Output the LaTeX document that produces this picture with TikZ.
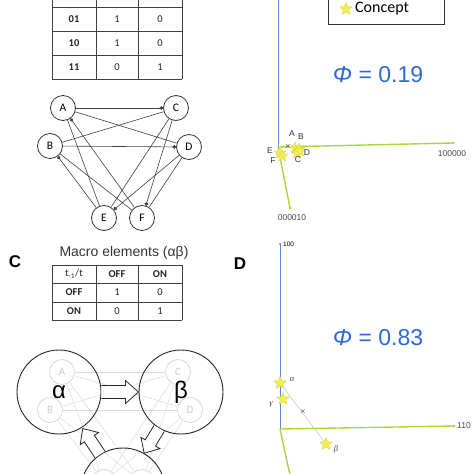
\documentclass[tikz,border=0pt]{standalone}
\usepackage{fontspec}
\setmainfont{Liberation Sans}
\newfontfamily\carl{Carlito}
\newfontfamily\serifgr{Liberation Serif}
\usetikzlibrary{shapes.geometric,arrows.meta}
\definecolor{phiblue}{RGB}{45,105,215}
\definecolor{axblue}{RGB}{95,135,225}
\definecolor{axgreen}{RGB}{170,215,60}
\definecolor{stary}{RGB}{240,240,80}
\begin{document}
\begin{tikzpicture}[x=1pt,y=-1pt,
  tbl/.style={draw=black!75,line width=1pt},
  cell/.style={font=\carl\fontsize{10.5}{10.5}\selectfont,text=black!85,inner sep=0pt},
  bcell/.style={cell,font=\carl\bfseries\fontsize{10.5}{10.5}\selectfont},
  netnode/.style={circle,draw=black!80,line width=0.8pt,minimum size=25pt,inner sep=0pt,font=\carl\fontsize{11.5}{11.5}\selectfont},
  netedge/.style={draw=black!75,line width=0.6pt},
  dotted end/.style={-{Circle[length=3.6pt]}},
  faintnode/.style={circle,draw=black!18,line width=0.6pt,minimum size=25pt,inner sep=0pt,text=black!20,font=\carl\fontsize{11}{11}\selectfont},
  faintedge/.style={draw=black!14,line width=0.5pt},
  macro/.style={circle,draw=black!85,line width=0.9pt,minimum size=84pt,inner sep=0pt,font=\fontsize{24}{24}\selectfont},
  blockarrow/.style={draw=black!85,fill=white,line width=0.8pt,line join=miter},
  concept/.style={star,star points=5,star point ratio=2.2,fill=stary,draw=yellow!50!olive!70,line width=0.3pt,minimum size=12pt,inner sep=0pt},
  blueaxis/.style={draw=axblue,line width=1pt},
  greenaxis/.style={draw=axgreen,line width=1.4pt},
  axlabel/.style={font=\fontsize{8.5}{8.5}\selectfont,text=black!70,inner sep=0pt},
  ptlabel/.style={font=\fontsize{8.5}{8.5}\selectfont,text=black!80,inner sep=0pt},
  grlabel/.style={font=\serifgr\itshape\fontsize{8.5}{8.5}\selectfont,text=black!70,inner sep=0pt},
  phitext/.style={font=\fontsize{23}{23}\selectfont,text=phiblue},
  panel/.style={font=\bfseries\fontsize{17}{17}\selectfont}
]
\useasboundingbox (0,0) rectangle (474,474);
\clip (0,0) rectangle (474,474);

% ---------- Panel A: table ----------
\foreach \x in {52,96,138,182} \draw[tbl] (\x,-10) -- (\x,79);
\foreach \y in {7,31,55,79} \draw[tbl] (52,\y) -- (182,\y);
\node[bcell] (r1) at (74,19) {01};
\node[cell] (r1a) at (117,19) {1};
\node[cell] (r1b) at (160,19) {0};
\node[bcell] (r2) at (74,43) {10};
\node[cell] (r2a) at (117,43) {1};
\node[cell] (r2b) at (160,43) {0};
\node[bcell] (r3) at (74,67) {11};
\node[cell] (r3a) at (117,67) {0};
\node[cell] (r3b) at (160,67) {1};

% ---------- Panel A: network ----------
\node[netnode] (A) at (63,108) {A};
\node[netnode] (B) at (50,146) {B};
\node[netnode] (C) at (176,108) {C};
\node[netnode] (D) at (189,147) {D};
\node[netnode] (E) at (104,218) {E};
\node[netnode] (F) at (142,218) {F};
\draw[netedge,dotted end] (A) -- (C);
\draw[netedge,dotted end] (B) -- (D);
\draw[netedge,dotted end] (D) -- (E);
\draw[netedge,dotted end] (C) -- (F);
\draw[netedge,dotted end] (F) -- (A);
\draw[netedge,dotted end] (E) -- (B);
\draw[netedge] (A) -- (D);
\draw[netedge] (B) -- (C);
\draw[netedge] (A) -- (E);
\draw[netedge] (B) -- (F);
\draw[netedge] (C) -- (E);
\draw[netedge] (D) -- (F);

% ---------- Panel B ----------
\draw[draw=black!80,line width=0.8pt] (328,-5) rectangle (444,24);
\node[concept,minimum size=13pt] (lstar) at (346,9) {};
\node[font=\carl\fontsize{16}{16}\selectfont,anchor=west,inner sep=0pt] (lconcept) at (355,9) {Concept};
\node[phitext] (phi1) at (378,75) {\textit{Φ} = 0.19};
\coordinate (o1) at (278,147);
\coordinate (ytop1) at (278,-2);
\coordinate (xend1) at (453,143);
\coordinate (zend1) at (290,208);
\draw[blueaxis] (ytop1) -- (o1);
\draw[greenaxis] (o1) -- (xend1);
\draw[greenaxis] (o1) -- (zend1);
\fill[axgreen] (xend1) circle (1.5pt);
\fill[axgreen] (zend1) circle (1.5pt);
\node[axlabel] (l100000) at (452,154) {100000};
\node[axlabel] (l000010) at (292,218) {000010};
\node[text=black!70,font=\fontsize{9}{9}\selectfont,inner sep=0pt] (x1) at (288,147) {×};
\node[concept] (sE) at (280,153) {};
\node[concept] (sF) at (282,156) {};
\node[concept] (sA) at (295,148) {};
\node[concept] (sB) at (299,149) {};
\node[concept] (sC) at (297,153) {};
\node[concept] (sD) at (300,151) {};
\node[ptlabel] (lA) at (292,134) {A};
\node[ptlabel] (lB) at (301,137) {B};
\node[ptlabel] (lE) at (270,151) {E};
\node[ptlabel] (lF) at (273,161) {F};
\node[ptlabel] (lD) at (307,153) {D};
\node[ptlabel] (lC) at (298,160) {C};

% ---------- Panel C ----------
\node[panel] (pC) at (15,262) {C};
\node[font=\fontsize{14}{14}\selectfont,text=black!80] (mtitle) at (124,253) {Macro elements (αβ)};
\foreach \x in {52,96,138,182} \draw[tbl] (\x,265) -- (\x,320);
\foreach \y in {265,283,302,320} \draw[tbl] (52,\y) -- (182,\y);
\node[cell] (h0) at (74,274) {t\textsubscript{-1}/t};
\node[bcell] (h1) at (117,274) {OFF};
\node[bcell] (h2) at (160,274) {ON};
\node[bcell] (c1) at (74,292.5) {OFF};
\node[cell] (c1a) at (117,292.5) {1};
\node[cell] (c1b) at (160,292.5) {0};
\node[bcell] (c2) at (74,311) {ON};
\node[cell] (c2a) at (117,311) {0};
\node[cell] (c2b) at (160,311) {1};

% faint micro network
\node[faintnode] (fA) at (62,372) {A};
\node[faintnode] (fB) at (50,410) {B};
\node[faintnode] (fC) at (178,372) {C};
\node[faintnode] (fD) at (190,410) {D};
\node[faintnode] (fE) at (104,482) {};
\node[faintnode] (fF) at (142,482) {};
\foreach \a/\b in {fA/fC,fB/fD,fD/fE,fC/fF,fF/fA,fE/fB,fA/fD,fB/fC,fA/fE,fB/fF,fC/fE,fD/fF}
  \draw[faintedge] (\a) -- (\b);

% macro circles
\node[macro] (alpha) at (59,392) {α};
\node[macro] (beta) at (181,392) {β};
\node[macro] (gamma) at (123,490) {};

% block arrows
\begin{scope}[shift={(alpha.east)}]
  \draw[blockarrow] (0,-6.5) -- (24,-6.5) -- (24,-11.5) -- (37,0) -- (24,11.5) -- (24,6.5) -- (0,6.5);
\end{scope}
\begin{scope}[shift={(beta.-121)},rotate=-121]
  \draw[blockarrow] (0,-6) -- (17,-6) -- (17,-11) -- (29,0) -- (17,11) -- (17,6) -- (0,6);
\end{scope}
\begin{scope}[shift={(gamma.123.5)},rotate=123.5]
  \draw[blockarrow] (0,-6) -- (19,-6) -- (19,-11) -- (31,0) -- (19,11) -- (19,6) -- (0,6);
\end{scope}

% ---------- Panel D ----------
\node[panel] (pD) at (240,264) {D};
\node[phitext] (phi2) at (378,338) {\textit{Φ} = 0.83};
\coordinate (o2) at (280,429);
\coordinate (ytop2) at (280,244);
\coordinate (xend2) at (454,426);
\coordinate (zend2) at (291,480);
\draw[blueaxis] (ytop2) -- (o2);
\fill[axblue] (ytop2) circle (1.2pt);
\node[font=\fontsize{6.5}{6.5}\selectfont,anchor=west,inner sep=0pt] (l100) at (283,244) {100};
\draw[greenaxis] (o2) -- (xend2);
\draw[greenaxis] (o2) -- (zend2);
\fill[axgreen] (xend2) circle (1.5pt);
\node[axlabel,anchor=west] (l110) at (457,426) {110};
\node[concept,minimum size=13pt] (sa) at (280,383) {};
\node[concept,minimum size=13pt] (sg) at (283,399) {};
\node[concept,minimum size=13pt] (sb) at (326,444) {};
\draw[draw=black!20,line width=0.6pt] (sa) -- (sb);
\node[text=black!60,font=\fontsize{9}{9}\selectfont,inner sep=0pt] (x2) at (303,412) {×};
\node[grlabel] (la) at (292,380) {α};
\node[grlabel] (lg) at (271,404) {γ};
\node[grlabel] (lb) at (336,449) {β};
\end{tikzpicture}
\end{document}
